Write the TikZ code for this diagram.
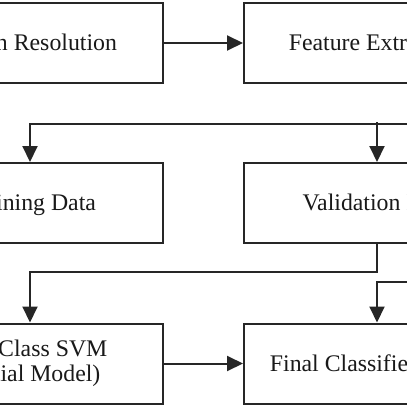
\documentclass[tikz,border=0pt]{standalone}
\usepackage{fontspec}
\setmainfont{Liberation Serif}
\usetikzlibrary{arrows.meta,calc}
\begin{document}
\begin{tikzpicture}[x=1pt,y=-1pt,
  box/.style={draw=black!85,line width=2pt,fill=white,minimum width=266pt,minimum height=80pt,
    inner sep=0pt,align=center,text=black!90,
    font=\fontsize{23.8}{25.5}\selectfont},
  oneline/.style={box,text height=20pt,text depth=4.4pt},
  conn/.style={draw=black!85,line width=2pt},
  arr/.style={conn,-{Triangle[length=16pt,width=15pt]}}]
\useasboundingbox (0,0) rectangle (407,407);
\clip (0,0) rectangle (407,407);
\fill[white] (0,0) rectangle (407,407);
\node[oneline] (res) at (30,43) {Lesion Resolution};
\node[oneline] (feat) at (377,43) {Feature Extraction};
\node[oneline] (train) at (30,203) {Training Data};
\node[oneline] (val) at (377,203) {Validation Data};
\node[box] (svm) at (30,363.5) {One Class SVM\\(Initial Model)};
\node[oneline] (final) at (377,363.5) {Final Classifier Model};
\coordinate (fo) at ($(feat.south)+(70,0)$);
\coordinate (vo) at ($(val.east)+(20,0)$);
\draw[arr] (res.east) -- (feat.west);
\draw[arr] (fo) -- ++(0,40) -| (train.north);
\draw[arr] ($(val.north)+(0,-40)$) -- (val.north);
\draw[arr] (val.south) -- ++(0,28) -| (svm.north);
\draw[arr] (vo) |- ($(final.north)+(0,-40.5)$) -- (final.north);
\draw[arr] (svm.east) -- (final.west);
\end{tikzpicture}
\end{document}
